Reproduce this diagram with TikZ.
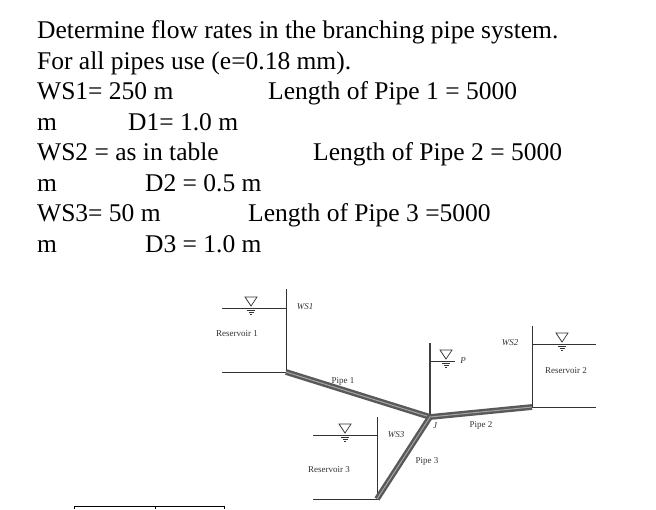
\documentclass[tikz,border=0pt]{standalone}
\usepackage{fontspec}
\setmainfont{Liberation Serif}
\begin{document}
\begin{tikzpicture}[x=1pt,y=-1pt,
  txt/.style={anchor=base west,inner sep=0pt,font=\fontsize{25.5}{30}\selectfont},
  lbl/.style={inner sep=0pt,font=\fontsize{9}{10}\selectfont,text=black!80},
  ilbl/.style={lbl,font=\fontsize{9}{10}\selectfont\itshape},
  lin/.style={line width=0.7pt,black!80},
  pipe/.style={line width=2.4pt,black!65,double=black!35,double distance=1pt}]
\useasboundingbox (0,0) rectangle (656,509);
\node[txt] (t1) at (37,38) {Determine flow rates in the branching pipe system.};
\node[txt] (t2) at (37,69) {For all pipes use (e=0.18 mm).};
\node[txt] (t3) at (37,99) {WS1= 250 m};
\node[txt] (t3b) at (268,99) {Length of Pipe 1 = 5000};
\node[txt] (t4) at (37,130) {m};
\node[txt] (t4b) at (128,130) {D1= 1.0 m};
\node[txt] (t5) at (37,160) {WS2 = as in table};
\node[txt] (t5b) at (313,160) {Length of Pipe 2 = 5000};
\node[txt] (t6) at (37,191) {m};
\node[txt] (t6b) at (145,191) {D2 = 0.5 m};
\node[txt] (t7) at (37,221) {WS3= 50 m};
\node[txt] (t7b) at (248,221) {Length of Pipe 3 =5000};
\node[txt] (t8) at (37,252) {m};
\node[txt] (t8b) at (145,252) {D3 = 1.0 m};
% table top
\draw[line width=0.8pt] (74,509) -- (74,506) -- (224,506) -- (224,509);
\draw[line width=0.8pt] (155,506) -- (155,509);
% coordinates
\coordinate (r1) at (286,372);
\coordinate (J) at (430,417);
\coordinate (r2) at (532,407);
\coordinate (r3) at (377,499);
% reservoir 1
\draw[lin] (286,289) -- (r1) -- (222,372);
\draw[lin] (222,308) -- (286,308);
\draw[lin] (245,297) -- (257,297) -- (251,306) -- cycle;
\draw[lin,line width=0.5pt] (247,310) -- (255,310) (248.5,312) -- (253.5,312) (250,314) -- (252,314);
\node[ilbl] (ws1) at (305,307) {WS1};
\node[lbl] (res1) at (237,334) {Reservoir 1};
% reservoir 2
\draw[lin] (532,326) -- (r2) -- (596,407);
\draw[lin] (532,344) -- (596,344);
\draw[lin] (556,333) -- (568,333) -- (562,342) -- cycle;
\draw[lin,line width=0.5pt] (558,346) -- (566,346) (559.5,348) -- (564.5,348) (561,350) -- (563,350);
\node[ilbl] (ws2) at (510,343) {WS2};
\node[lbl] (res2) at (566,371) {Reservoir 2};
% reservoir 3
\draw[lin] (377,417) -- (r3) -- (313,499);
\draw[lin] (313,435) -- (377,435);
\draw[lin] (339,424) -- (351,424) -- (345,433) -- cycle;
\draw[lin,line width=0.5pt] (341,437) -- (349,437) (342.5,439) -- (347.5,439) (344,441) -- (346,441);
\node[ilbl] (ws3) at (396,435) {WS3};
\node[lbl] (res3) at (329,470) {Reservoir 3};
% piezometer
\draw[line width=1.4pt,black!75] (430,343) -- (J);
\draw[lin] (430,361) -- (455,361);
\draw[lin] (440,350) -- (452,350) -- (446,359) -- cycle;
\draw[lin,line width=0.5pt] (442,363) -- (450,363) (443.5,365) -- (448.5,365) (445,367) -- (447,367);
\node[ilbl] (P) at (463,361) {P};
\node[ilbl] (Jl) at (435,426) {J};
% pipes
\draw[pipe] (r1) -- (J);
\draw[pipe] (J) -- (r2);
\draw[pipe] (J) -- (r3);
\node[lbl] (p1) at (343,381) {Pipe 1};
\node[lbl] (p2) at (481,425) {Pipe 2};
\node[lbl] (p3) at (427,461) {Pipe 3};
\end{tikzpicture}
\end{document}
